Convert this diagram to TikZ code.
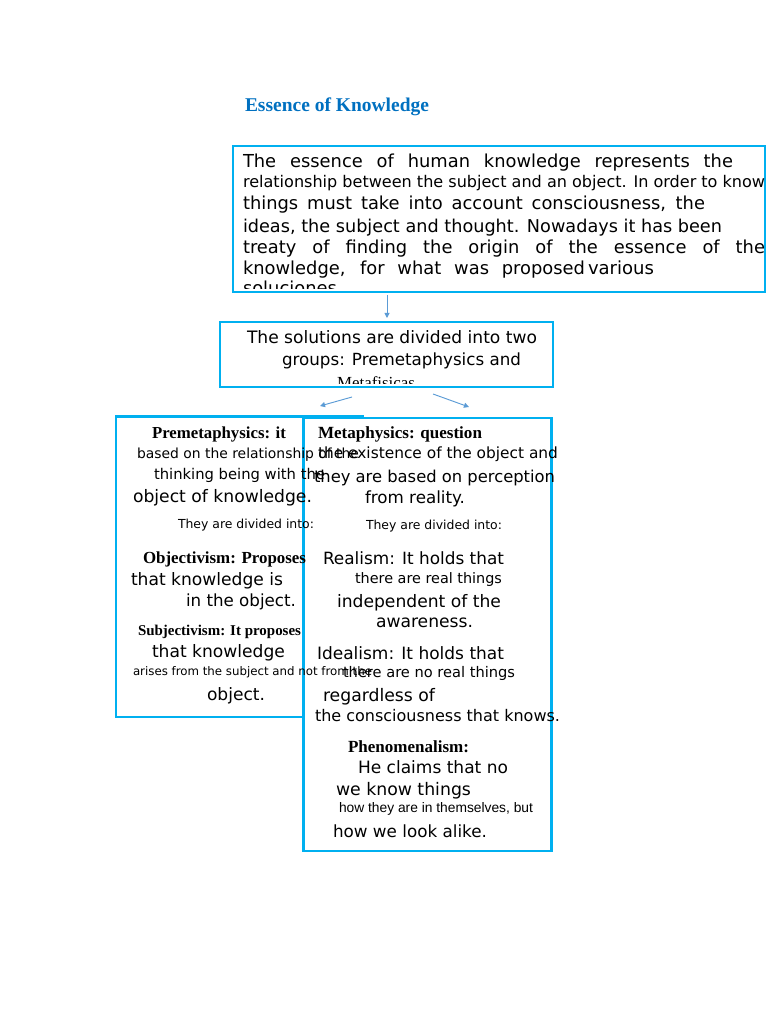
\documentclass[tikz,border=0pt]{standalone}
\usepackage{graphicx}
\usepackage{fontspec}
\setmainfont{DejaVu Sans}
\newfontfamily\serif{Liberation Serif}
\newfontfamily\arial{Liberation Sans}
\usetikzlibrary{arrows.meta}
\newlength\pxu \setlength\pxu{0.75pt}
\definecolor{boxc}{HTML}{00B0F0}
\definecolor{arrc}{HTML}{5B9BD5}
\definecolor{titc}{HTML}{0070C0}
\tikzset{
  txt/.style={anchor=base west, inner sep=0pt, outer sep=0pt},
  box/.style={draw=boxc, line width=2.2pt, anchor=north west, inner sep=0pt, outer sep=0pt, fill=white},
  conn/.style={draw=arrc, line width=0.7pt, -{Triangle[length=3.8pt,width=3.8pt]}}
}
\newcommand\tl[5]{\node[txt] (#1) at (#2,#3) {\resizebox{#4\pxu}{!}{#5}};}
\newcommand\jl[5]{\node[txt] (#1) at (#2,#3) {\fontsize{13.4}{15}\selectfont\makebox[#4\pxu][s]{#5}};}
\begin{document}
\begin{tikzpicture}[x=0.75pt,y=-0.75pt]
\useasboundingbox (0,0) rectangle (768,1024);
% boxes
\node[box, minimum width=532\pxu, minimum height=146\pxu] (b1) at (233,146) {};
\node[box, minimum width=333\pxu, minimum height=65\pxu] (b2) at (220,322) {};
\node[box, minimum width=247\pxu, minimum height=300.5\pxu] (b3) at (116,416.5) {};
\node[box, minimum width=248\pxu, minimum height=433\pxu] (b4) at (303.5,418) {};
% title
\tl{title}{245}{112}{184}{\serif\bfseries\color{titc}Essence of Knowledge}
% box 1
\jl{p1}{243}{167}{490}{The essence of human knowledge represents the}
\tl{p2}{243}{187}{522}{relationship between the subject and an object. In order to know}
\jl{p3}{243}{209}{462}{things must take into account consciousness, the}
\tl{p4}{243}{232}{479}{ideas, the subject and thought. Nowadays it has been}
\jl{p5}{243}{253}{522}{treaty of finding the origin of the essence of the}
\jl{p6}{243}{274}{342}{knowledge, for what was proposed}
\tl{p6b}{588}{274}{66}{various}
\begin{scope}
\clip (236,270) rectangle (762,288);
\node[txt] (p7) at (243,294.5) {\fontsize{13.4}{15}\selectfont soluciones};
\end{scope}
% box 2
\tl{q1}{247}{343}{290}{The solutions are divided into two}
\tl{q2}{282}{365}{239}{groups: Premetaphysics and}
\begin{scope}
\clip (224,370) rectangle (550,383);
\tl{q3}{337}{388}{78}{\serif Metafisicas}
\end{scope}
% left box
\tl{l1}{152}{438}{134}{\serif\bfseries Premetaphysics: it}
\tl{l2}{137}{458}{222}{based on the relationship of the}
\tl{l3}{154}{479}{171}{thinking being with the}
\tl{l4}{133}{502}{179}{object of knowledge.}
\tl{l5}{178}{528}{136}{They are divided into:}
\tl{l6}{143}{563}{163}{\serif\bfseries Objectivism: Proposes}
\tl{l7}{131}{585}{152}{that knowledge is}
\tl{l8}{186}{606}{110}{in the object.}
\tl{l9}{138}{635}{163}{\serif\bfseries Subjectivism: It proposes}
\tl{l10}{152}{657}{133}{that knowledge}
\tl{l11}{133}{675}{239}{arises from the subject and not from the}
\tl{l12}{207}{700}{58}{object.}
% right box
\tl{r1}{318}{438}{164}{\serif\bfseries Metaphysics: question}
\tl{r2}{318}{458}{240}{the existence of the object and}
\tl{r3}{314}{482}{241}{they are based on perception}
\tl{r4}{365}{503}{100}{from reality.}
\tl{r5}{366}{529}{136}{They are divided into:}
\tl{r6}{323}{564}{181}{Realism: It holds that}
\tl{r7}{355}{583}{147}{there are real things}
\tl{r8}{337}{607}{164}{independent of the}
\tl{r9}{376}{627}{97}{awareness.}
\tl{r10}{317}{659}{187}{Idealism: It holds that}
\tl{r11}{343}{677}{172}{there are no real things}
\tl{r12}{323}{701}{112}{regardless of}
\tl{r13}{315}{721}{245}{the consciousness that knows.}
\tl{r14}{348}{752}{121}{\serif\bfseries Phenomenalism:}
\tl{r15}{358}{773}{150}{He claims that no}
\tl{r16}{336}{795}{135}{we know things}
\tl{r17}{339}{812}{194}{\arial how they are in themselves, but}
\tl{r18}{333}{837}{154}{how we look alike.}
% connectors
\coordinate (a1s) at (387,295);
\coordinate (a1e) at (387,318);
\coordinate (a2s) at (352,397);
\coordinate (a2e) at (320,406);
\coordinate (a3s) at (433,394);
\coordinate (a3e) at (469,407);
\draw[conn] (a1s) -- (a1e);
\draw[conn] (a2s) -- (a2e);
\draw[conn] (a3s) -- (a3e);
\end{tikzpicture}
\end{document}
